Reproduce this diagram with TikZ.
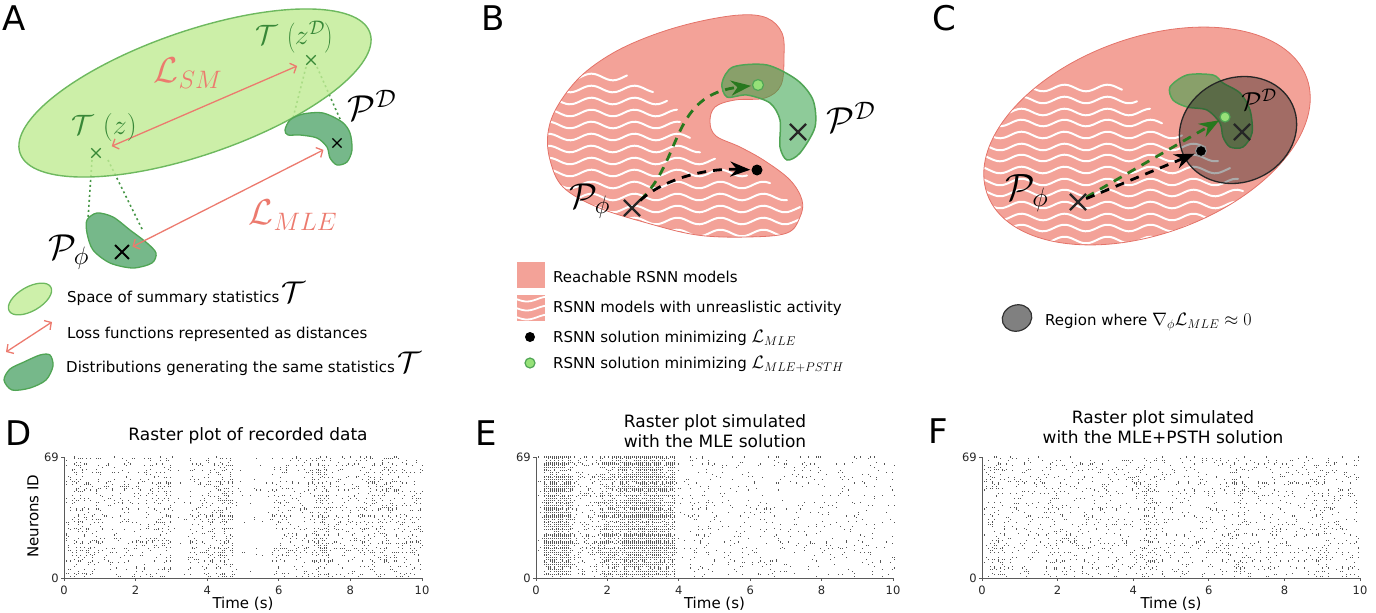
\RequirePackage{fix-cm}
\documentclass[tikz,border=0pt]{standalone}
\usepackage[no-math]{fontspec}
\setmainfont{DejaVu Sans}
\usetikzlibrary{arrows.meta,shapes.misc}

\definecolor{lgreenbase}{RGB}{193,236,149}
\definecolor{lgreen}{RGB}{205,240,170}
\definecolor{lgreenB}{RGB}{110,185,95}
\definecolor{dgreen}{RGB}{118,184,138}
\definecolor{dgreenB}{RGB}{80,165,85}
\definecolor{tbeanc}{RGB}{50,160,70}
\definecolor{salmon}{RGB}{243,162,152}
\definecolor{salmonB}{RGB}{228,115,105}
\definecolor{lossred}{RGB}{236,122,110}
\definecolor{tgreen}{RGB}{55,135,55}
\definecolor{projgreen}{RGB}{70,150,70}
\definecolor{arrgreen}{RGB}{40,120,30}
\definecolor{dotgreen}{RGB}{150,225,120}
\definecolor{rast}{RGB}{85,85,85}
\definecolor{axgray}{RGB}{90,90,90}

\newcommand\Tsym{{\fontsize{30}{30}\selectfont$\mathcal{T}$}}
\newcommand\Lm[1]{{\fontsize{18}{18}\selectfont$\mathcal{L}_{#1}$}}

% per-bin firing probabilities
\newcommand\setrates[2]{%
  \foreach \a/\b/\p in {#2}{%
    \foreach \t in {\a,...,\b}{\expandafter\xdef\csname r#1@\t\endcsname{\p}}}}
\setrates{D}{0/4/.16, 5/11/.22, 12/17/.17, 18/31/.11, 32/40/.13, 41/48/.17, 49/53/.26, 54/62/.03, 63/71/.15, 72/76/.2, 77/84/.3, 85/103/.025, 104/116/.15, 117/125/.17, 126/132/.3, 133/148/.14, 149/157/.17, 158/163/.24, 164/179/.15}
\setrates{E}{0/3/.08, 4/17/.72, 18/31/.2, 32/43/.5, 44/62/.75, 63/69/.55, 70/76/.05, 77/86/.13, 87/179/.065}
\setrates{F}{0/3/.12, 4/11/.2, 12/75/.11, 76/80/.14, 81/87/.24, 88/125/.09, 126/132/.18, 133/165/.1, 166/173/.2, 174/188/.11}

% #1 prefix, #2 x0, #3 bin width, #4 seed, #5 last bin
\newcommand\rasterplot[5]{%
  \pgfmathsetseed{#4}%
  \pgfsetfillcolor{rast}%
  \foreach \n in {0,...,69}{%
    \pgfmathsetmacro\fac{0.5+1.0*rnd}%
    \ifnum\n=14 \def\fac{1.9}\fi
    \ifnum\n=16 \def\fac{1.7}\fi
    \ifnum\n=19 \def\fac{1.8}\fi
    \foreach \t in {0,...,#5}{%
      \pgfmathrnd
      \ifdim\pgfmathresult pt<\fac\dimexpr\csname r#1@\t\endcsname pt\relax
        \pgfpathrectangle{\pgfqpoint{\dimexpr#2pt+#3pt*\t\relax}{\dimexpr1.733pt*\n-577.2pt\relax}}{\pgfqpoint{1.25pt}{1.15pt}}%
        \pgfusepath{fill}%
      \fi
    }%
  }%
}

% #1 prefix, #2 x0, #3 width
\newcommand\rasteraxes[3]{%
  \draw[axisline] (#2,457) -- (#2,578) -- (#2+#3,578);
  \foreach \k in {0,...,5}{%
    \draw[axisline] (#2+\k*#3/5,578) -- ++(0,3);
    \node[tick] (#1x\k) at (#2+\k*#3/5,590) {\the\numexpr\k*2\relax};
  }
  \draw[axisline] (#2,457) -- ++(-3,0);
  \draw[axisline] (#2,578) -- ++(-3,0);
  \node[tick,anchor=east] (#1y69) at (#2-5,457) {69};
  \node[tick,anchor=east] (#1y0) at (#2-5,578) {0};
  \node[axlbl] (#1time) at (#2+#3/2,604) {Time (s)};
}

\def\Bpath{plot[smooth cycle,tension=0.6] coordinates {(548,133) (557,107) (580,77) (613,53) (653,35) (697,22) (740,15) (767,18) (782,33) (784,57) (781,85) (765,98) (735,100) (715,107) (710,122) (716,136) (740,147) (765,161) (790,180) (802,200) (800,217) (787,233) (747,237) (697,235) (647,223) (597,207) (563,187) (550,160)}}
\def\Cpath{[rotate around={20:(1147,136)}] (1147,136) ellipse [x radius=170,y radius=98]}

\begin{document}
\begin{tikzpicture}[x=1pt,y=-1pt,
  lbl/.style={font=\fontsize{34}{34}\selectfont,inner sep=0,anchor=base west},
  leg/.style={font=\fontsize{15}{18}\selectfont,inner sep=0,anchor=base west},
  ttl/.style={font=\fontsize{17}{20}\selectfont,inner sep=0},
  tick/.style={font=\fontsize{11.5}{12}\selectfont,text=black!85,inner sep=0},
  axlbl/.style={font=\fontsize{15}{16}\selectfont,inner sep=0},
  axisline/.style={draw=axgray,line width=0.9pt},
  bigmath/.style={font=\fontsize{36}{36}\selectfont,inner sep=0},
  midmath/.style={font=\fontsize{28}{28}\selectfont,inner sep=0,text=tgreen},
  xg/.style={cross out,draw=tgreen,line width=1.4pt,minimum size=8pt,inner sep=0},
  xs/.style={cross out,draw=black,line width=1.2pt,minimum size=8pt,inner sep=0},
  xk/.style={cross out,draw=black,line width=1.8pt,minimum size=12pt,inner sep=0},
  xkb/.style={cross out,draw=black!85,line width=2.2pt,minimum size=14pt,inner sep=0},
  loss/.style={draw=lossred,line width=1.3pt,{Straight Barb[length=5pt,width=11pt]}-{Straight Barb[length=5pt,width=11pt]}},
  proj/.style={draw=projgreen,line width=1.6pt,dash pattern=on 2pt off 3pt},
  bean/.style={fill=dgreen,draw=dgreenB,line width=1.3pt},
  tbean/.style={fill=tbeanc,fill opacity=0.55,draw=dgreenB,line width=1.5pt},
  wavel/.style={draw=white,line width=2pt,line cap=round},
  garrow/.style={draw=arrgreen,line width=2.8pt,dash pattern=on 9pt off 7pt,-{Stealth[length=20pt,width=15pt]},shorten >=1pt},
  karrow/.style={draw=black,line width=2.8pt,dash pattern=on 9pt off 7pt,-{Stealth[length=20pt,width=15pt]},shorten >=1pt},
  kdot/.style={circle,fill=black,minimum size=11pt,inner sep=0},
  gdot/.style={circle,fill=dotgreen,draw=dgreenB,line width=1.2pt,minimum size=11pt,inner sep=0},
]
\useasboundingbox (0,0) rectangle (1376,613);

% ================= Panel A =================
\node[lbl] (pA) at (2,30) {A};
\coordinate (pa1) at (92,160); \coordinate (pa2) at (88,219);
\coordinate (pa3) at (108,160); \coordinate (pa4) at (143,231);
\coordinate (pb1) at (306,67); \coordinate (pb2) at (293,118);
\coordinate (pb3) at (317,67); \coordinate (pb4) at (344,128);
\draw[proj] (pa1) -- (pa2);
\draw[proj] (pa3) -- (pa4);
\draw[proj] (pb1) -- (pb2);
\draw[proj] (pb3) -- (pb4);
\fill[lgreenbase,fill opacity=0.82,rotate around={19:(195,93)}] (195,93) ellipse [x radius=185,y radius=62];
\draw[lgreenB,line width=1.4pt,rotate around={19:(195,93)}] (195,93) ellipse [x radius=185,y radius=62];
\draw[bean] plot[smooth cycle] coordinates {(87,220) (97,213) (113,217) (130,230) (147,243) (156,253) (152,263) (133,268) (110,263) (93,250) (87,233)};
\draw[bean] plot[smooth cycle] coordinates {(285,130) (290,120) (303,114) (323,113) (342,122) (350,133) (352,150) (347,162) (337,165) (330,158) (327,147) (317,138) (300,135) (288,135)};
\node[xg] (tz) at (96,153) {};
\node[xg] (tzd) at (311,60) {};
\node[xs] (xpd) at (337,143) {};
\node[xk] (xpphi) at (122,252) {};
\draw[loss,shorten <=12pt,shorten >=10pt] (tz) -- (tzd);
\draw[loss,shorten <=4pt,shorten >=10pt] (xpphi) -- (xpd);
\node[midmath] (ltzd) at (294,37) {$\mathcal{T}\,\left(z^{\mathcal{D}}\right)$};
\node[midmath] (ltz) at (104,127) {$\mathcal{T}\,\left(z\right)$};
\node[bigmath,text=lossred] (lsm) at (188,73) {$\mathcal{L}_{SM}$};
\node[bigmath,text=lossred] (lmle) at (293,215) {$\mathcal{L}_{MLE}$};
\node[bigmath] (lpdA) at (372,105) {$\mathcal{P}^{\mathcal{D}}$};
\node[bigmath] (lpphiA) at (69,252) {$\mathcal{P}_{\phi}$};

% legend A
\draw[fill=lgreen,draw=lgreenB,line width=1.3pt,rotate around={30:(30,299)}] (30,299) ellipse [x radius=24,y radius=12];
\coordinate (la1) at (6,352); \coordinate (la2) at (52,322);
\draw[loss] (la1) -- (la2);
\draw[bean] plot[smooth cycle] coordinates {(4,380) (10,369) (24,362) (40,355) (50,355) (53,366) (46,380) (30,388) (12,390)};
\node[leg] (tA1) at (67,302) {Space of summary statistics\,\Tsym};
\node[leg] (tA2) at (67,338.5) {Loss functions represented as distances};
\node[leg] (tA3) at (66,372.5) {Distributions generating the same statistics\,\Tsym};

% ================= Panel B =================
\node[lbl] (pB) at (481,30) {B};
\fill[salmon] \Bpath;
\begin{scope}
  \clip \Bpath;
  \foreach \yy/\xe in {77/627, 89/653, 101/667, 113/677, 125/680, 137/690, 149/700, 161/715, 173/747, 185/770, 197/787, 209/800, 221/800, 233/790}{
    \draw[wavel] plot[domain=540:\xe,samples=45,smooth] (\x,{\yy+3.3*sin(8.37*\x)});
  }
\end{scope}
\draw[salmonB,line width=0.8pt] \Bpath;
\draw[tbean] plot[smooth cycle] coordinates {(722,83) (733,67) (767,65) (797,80) (813,100) (815,127) (800,153) (787,160) (780,147) (780,120) (770,103) (747,95) (727,97)};
\node[gdot] (gdotB) at (758,85) {};
\node[kdot] (kdotB) at (757,170) {};
\node[xkb] (xpdB) at (798,132) {};
\node[xkb] (pphiB) at (632,208) {};
\draw[garrow] (pphiB) .. controls (683,160) and (670,95) .. (gdotB);
\draw[karrow] (pphiB) .. controls (660,182) and (700,168) .. (kdotB);
\node[bigmath] (lpphiB) at (590,201) {$\mathcal{P}_{\phi}$};
\node[bigmath] (lpdB) at (851,117) {$\mathcal{P}^{\mathcal{D}}$};

% legend B
\fill[salmon] (517,262) rectangle (545,288);
\begin{scope}
  \clip (517,295) rectangle (545,321);
  \fill[salmon] (517,295) rectangle (545,321);
  \foreach \yy in {299,308,317}{
    \draw[wavel,line width=1.8pt] plot[domain=510:552,samples=15,smooth] (\x,{\yy+2.5*sin(8.37*\x)});
  }
\end{scope}
\node[kdot,minimum size=10pt] (legk) at (530,337) {};
\node[gdot,minimum size=10pt] (legg) at (530,363) {};
\node[leg] (tB1) at (553,282.5) {Reachable RSNN models};
\node[leg] (tB2) at (553,312.5) {RSNN models with unreaslistic activity};
\node[leg] (tB3) at (553,342.5) {RSNN solution minimizing \Lm{MLE}};
\node[leg] (tB4) at (553,368.5) {RSNN solution minimizing \Lm{MLE+PSTH}};

% ================= Panel C =================
\node[lbl] (pC) at (932,30) {C};
\fill[salmon] \Cpath;
\begin{scope}
  \clip \Cpath;
  \foreach \yy/\xe in {88/1122, 100/1137, 112/1150, 123/1162, 135/1182, 147/1205, 158/1218, 170/1230, 182/1238, 193/1243, 205/1243, 217/1232, 228/1210, 240/1180}{
    \draw[wavel] plot[domain=975:\xe,samples=50,smooth] (\x,{\yy+3.3*sin(8.37*\x)});
  }
\end{scope}
\draw[salmonB,line width=0.8pt] \Cpath;
\draw[tbean] plot[smooth cycle] coordinates {(1173,100) (1170,87) (1187,75) (1213,75) (1223,83) (1240,93) (1250,110) (1252,133) (1243,147) (1230,147) (1223,137) (1220,123) (1207,110) (1187,107)};
\draw[draw=black!85,line width=1.3pt,fill=black,fill opacity=0.33,rotate around={25:(1238,130)}] (1238,130) ellipse [x radius=60,y radius=52];
\node[gdot,minimum size=10pt] (gdotC) at (1225,117) {};
\node[kdot,minimum size=11pt,draw=black!40,line width=1pt] (kdotC) at (1201,151) {};
\node[xkb] (xpdC) at (1242,132) {};
\node[xkb] (pphiC) at (1078,202) {};
\draw[garrow] (pphiC) -- (gdotC);
\draw[karrow] (pphiC) -- (kdotC);
\node[bigmath,font=\fontsize{38}{38}\selectfont] (lpphiC) at (1027,193) {$\mathcal{P}_{\phi}$};
\node[bigmath,font=\fontsize{26}{26}\selectfont] (lpdC) at (1259,100) {$\mathcal{P}^{\mathcal{D}}$};

% legend C
\draw[fill=gray,draw=black!80,line width=1.2pt,rotate around={20:(1017,318)}] (1017,318) ellipse [x radius=15,y radius=13];
\node[leg] (tC) at (1045,325.5) {Region where {\fontsize{18}{18}\selectfont$\nabla_{\phi}\mathcal{L}_{MLE}\approx 0$}};

% ================= Rasters =================
\node[lbl] (pD) at (5,445) {D};
\node[lbl] (pE) at (475,445) {E};
\node[lbl] (pF) at (928,443) {F};
\node[ttl] (tD) at (248,436) {Raster plot of recorded data};
\node[ttl,align=center] (tE) at (715,431) {Raster plot simulated\\with the MLE solution};
\node[ttl,align=center] (tF) at (1163,427) {Raster plot simulated\\with the MLE+PSTH solution};
\node[axlbl,rotate=90] (nid) at (33,516) {Neurons ID};

\begin{scope}
  \rasterplot{D}{64}{2}{11}{179}
\end{scope}
\begin{scope}
  \rasterplot{E}{536}{2}{23}{179}
\end{scope}
\begin{scope}
  \rasterplot{F}{982}{2}{37}{188}
\end{scope}
\rasteraxes{D}{64}{358}
\rasteraxes{E}{536}{357}
\rasteraxes{F}{982}{378}
\end{tikzpicture}
\end{document}
